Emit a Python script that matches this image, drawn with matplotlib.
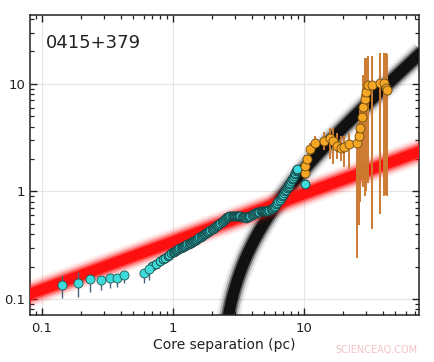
"""
Core separation profile plot for 0415+379
"""
import numpy as np
import matplotlib
matplotlib.use('Agg')
import matplotlib.pyplot as plt

# inner cyan points with error bars
cyan_err_x = [0.142, 0.191, 0.235, 0.284, 0.330, 0.378, 0.428, 0.608, 0.656]
cyan_err_y = [0.135, 0.142, 0.153, 0.150, 0.158, 0.158, 0.168, 0.173, 0.189]
cyan_err_lo = [0.101, 0.104, 0.117, 0.120, 0.126, 0.130, 0.140, 0.140, 0.150]
cyan_err_hi = [0.167, 0.177, 0.165, 0.160, 0.168, 0.168, 0.178, 0.185, 0.200]

# dense cyan chain
cyan_x = [0.70, 0.747, 0.80, 0.849, 0.88, 0.916, 0.945, 0.972, 1.0, 1.02, 1.043,
          1.06, 1.08, 1.10, 1.125, 1.15, 1.17, 1.19, 1.21, 1.24, 1.265, 1.29, 1.32,
          1.345, 1.37, 1.395, 1.42, 1.45, 1.48, 1.51, 1.54, 1.57,
          1.598, 1.63, 1.66, 1.695, 1.73, 1.765, 1.798, 1.835, 1.87, 1.905, 1.94,
          1.98, 2.02, 2.06, 2.10, 2.14, 2.18, 2.22, 2.27,
          2.31, 2.36, 2.40, 2.45, 2.50, 2.556, 2.61, 2.66, 2.71, 2.76, 2.81, 2.87,
          2.92, 2.98, 3.04, 3.10, 3.16, 3.23, 3.29, 3.36, 3.43,
          3.50, 3.56, 3.63, 3.70, 3.77, 3.85, 3.92, 4.0, 4.08, 4.16, 4.24, 4.32,
          4.41, 4.50, 4.59, 4.68, 4.77, 4.86, 4.96, 5.06,
          5.16, 5.26, 5.36, 5.47, 5.58, 5.69, 5.80, 5.91, 6.02, 6.14, 6.27, 6.40,
          6.53, 6.65, 6.78, 6.91, 7.05, 7.19, 7.34,
          7.45, 7.55, 7.66, 7.78, 7.89, 8.0, 8.12, 8.24, 8.37, 8.5, 8.62, 8.74, 8.85,
          8.95, 10.3]
cyan_y = [0.202, 0.213, 0.223, 0.233, 0.241, 0.250, 0.258, 0.265, 0.272, 0.276, 0.280,
          0.284, 0.287, 0.291, 0.295, 0.298, 0.302, 0.305, 0.309, 0.313, 0.318, 0.322,
          0.326, 0.330, 0.334, 0.338, 0.343, 0.347, 0.352, 0.357, 0.363, 0.369,
          0.375, 0.380, 0.386, 0.392, 0.398, 0.404, 0.410, 0.416, 0.423, 0.429, 0.436,
          0.443, 0.450, 0.458, 0.466, 0.474, 0.483, 0.491, 0.500,
          0.510, 0.520, 0.531, 0.542, 0.553, 0.565, 0.573, 0.580, 0.585, 0.590,
          0.593, 0.595, 0.596, 0.596, 0.595, 0.594, 0.592, 0.590, 0.586, 0.582, 0.578,
          0.575, 0.572, 0.570, 0.573, 0.578, 0.586, 0.595, 0.603, 0.610, 0.618, 0.625,
          0.632, 0.640, 0.645, 0.650, 0.653, 0.655, 0.656, 0.657, 0.656,
          0.655, 0.659, 0.665, 0.674, 0.683, 0.691, 0.700, 0.717, 0.735, 0.759,
          0.785, 0.812, 0.840, 0.870, 0.900, 0.932, 0.965, 1.002, 1.040,
          1.068, 1.095, 1.127, 1.160, 1.202, 1.245, 1.291, 1.340, 1.389, 1.440,
          1.494, 1.550, 1.575, 1.600, 1.17]

# outer orange points
orange_x = [10.2, 10.2, 10.5, 11.1, 12.1, 14.3, 15.9, 16.7, 18.0, 19.1, 20.2, 22.1,
            25.7, 26.4, 27.0, 27.7, 28.5, 29.5, 30.1, 30.7, 33.2, 38.4, 40.6, 42.5, 43.5]
orange_y = [1.49, 1.72, 2.01, 2.49, 2.84, 2.94, 3.11, 2.94, 2.64, 2.55, 2.60, 2.74,
            2.84, 3.27, 3.91, 4.92, 6.13, 7.18, 8.4, 9.73, 9.73, 10.2, 10.2, 9.2, 8.7]
orange_lo = [1.40, 1.60, 1.85, 2.2, 2.5, 2.4, 2.0, 1.8, 2.0, 1.9, 1.7, 1.6,
             0.24, 0.49, 0.79, 1.3, 1.09, 0.9, 1.0, 1.2, 0.45, 0.61, 0.9, 0.93, 0.9]
orange_hi = [1.6, 1.85, 2.2, 2.8, 3.3, 3.6, 3.9, 3.9, 3.5, 3.3, 3.3, 3.5,
             3.8, 4.5, 6.0, 8.0, 12.0, 17.5, 17.5, 18.0, 18.1, 19.5, 19.5, 19.5, 19.0]

# model parameters
red_a, red_k = 0.34, 0.445
blk_a, blk_k, blk_x0 = 0.165, 1.1, 2.2

fig = plt.figure(figsize=(4.34, 3.62), dpi=100)
ax = fig.add_axes([0.069, 0.130, 0.896, 0.829])
ax.set_xscale('log')
ax.set_yscale('log')
ax.set_xlim(0.0814, 75.5)
ax.set_ylim(0.071, 43.8)

ax.grid(True, which='major', color='#e4e4e4', lw=0.8, zorder=0)

# black band
xb = np.logspace(np.log10(blk_x0 + 0.3), np.log10(80), 400)
yb = blk_a * (xb - blk_x0) ** blk_k
for lw, al in [(17, 0.08), (13.5, 0.22), (10.5, 0.5), (8, 1.0)]:
    ax.plot(xb, yb, color='#111111', lw=lw, alpha=al, solid_capstyle='butt', zorder=2)

# red band
xr = np.logspace(-1.2, 2, 300)
yr = red_a * xr ** red_k
for lw, al in [(19, 0.07), (16, 0.15), (13, 0.3), (10, 0.55), (7.5, 1.0)]:
    ax.plot(xr, yr, color='#ff1010', lw=lw, alpha=al, solid_capstyle='butt', zorder=3)

cy = np.array(cyan_err_y)
ax.errorbar(cyan_err_x, cy, yerr=[cy - np.array(cyan_err_lo), np.array(cyan_err_hi) - cy],
            fmt='o', ms=6.5, mfc='#3ddcda', mec='#1f5555', mew=0.6,
            ecolor='#4a6580', elinewidth=1.0, capsize=0, zorder=5)
ax.plot(cyan_x, cyan_y, 'o', ms=6.3, mfc='#3ddcda', mec='#154545', mew=0.7, zorder=5)

oy = np.array(orange_y)
ax.errorbar(orange_x, oy, yerr=[oy - np.array(orange_lo), np.array(orange_hi) - oy],
            fmt='none', ecolor='#cc7a30', elinewidth=1.4, capsize=0, zorder=4)
ax.plot(orange_x, orange_y, 'o', ms=6.5, mfc='#f5a623', mec='#6b4a12', mew=0.6, zorder=6)

ax.tick_params(which='both', direction='in', top=True, right=True, colors='#222222',
               labelsize=9.5)
ax.tick_params(which='major', length=5, width=1)
ax.tick_params(which='minor', length=3, width=0.9)
ax.tick_params(axis='x', pad=5)
ax.set_xticks([0.1, 1, 10])
ax.set_xticklabels(['0.1', '1', '10'])
ax.set_yticks([0.1, 1, 10])
ax.set_yticklabels(['0.1', '1', '10'])
for s in ax.spines.values():
    s.set_linewidth(1.1)
    s.set_color('#222222')

ax.set_xlabel('Core separation (pc)', fontsize=10, color='#222222', labelpad=2)
ax.text(0.042, 0.935, '0415+379', transform=ax.transAxes, fontsize=13,
        color='#222222', va='top', ha='left')

fig.text(0.963, 0.025, 'SCIENCEAQ.COM', fontsize=7, color='#f2c2c8', ha='right')

fig.savefig('out.png', dpi=100)
